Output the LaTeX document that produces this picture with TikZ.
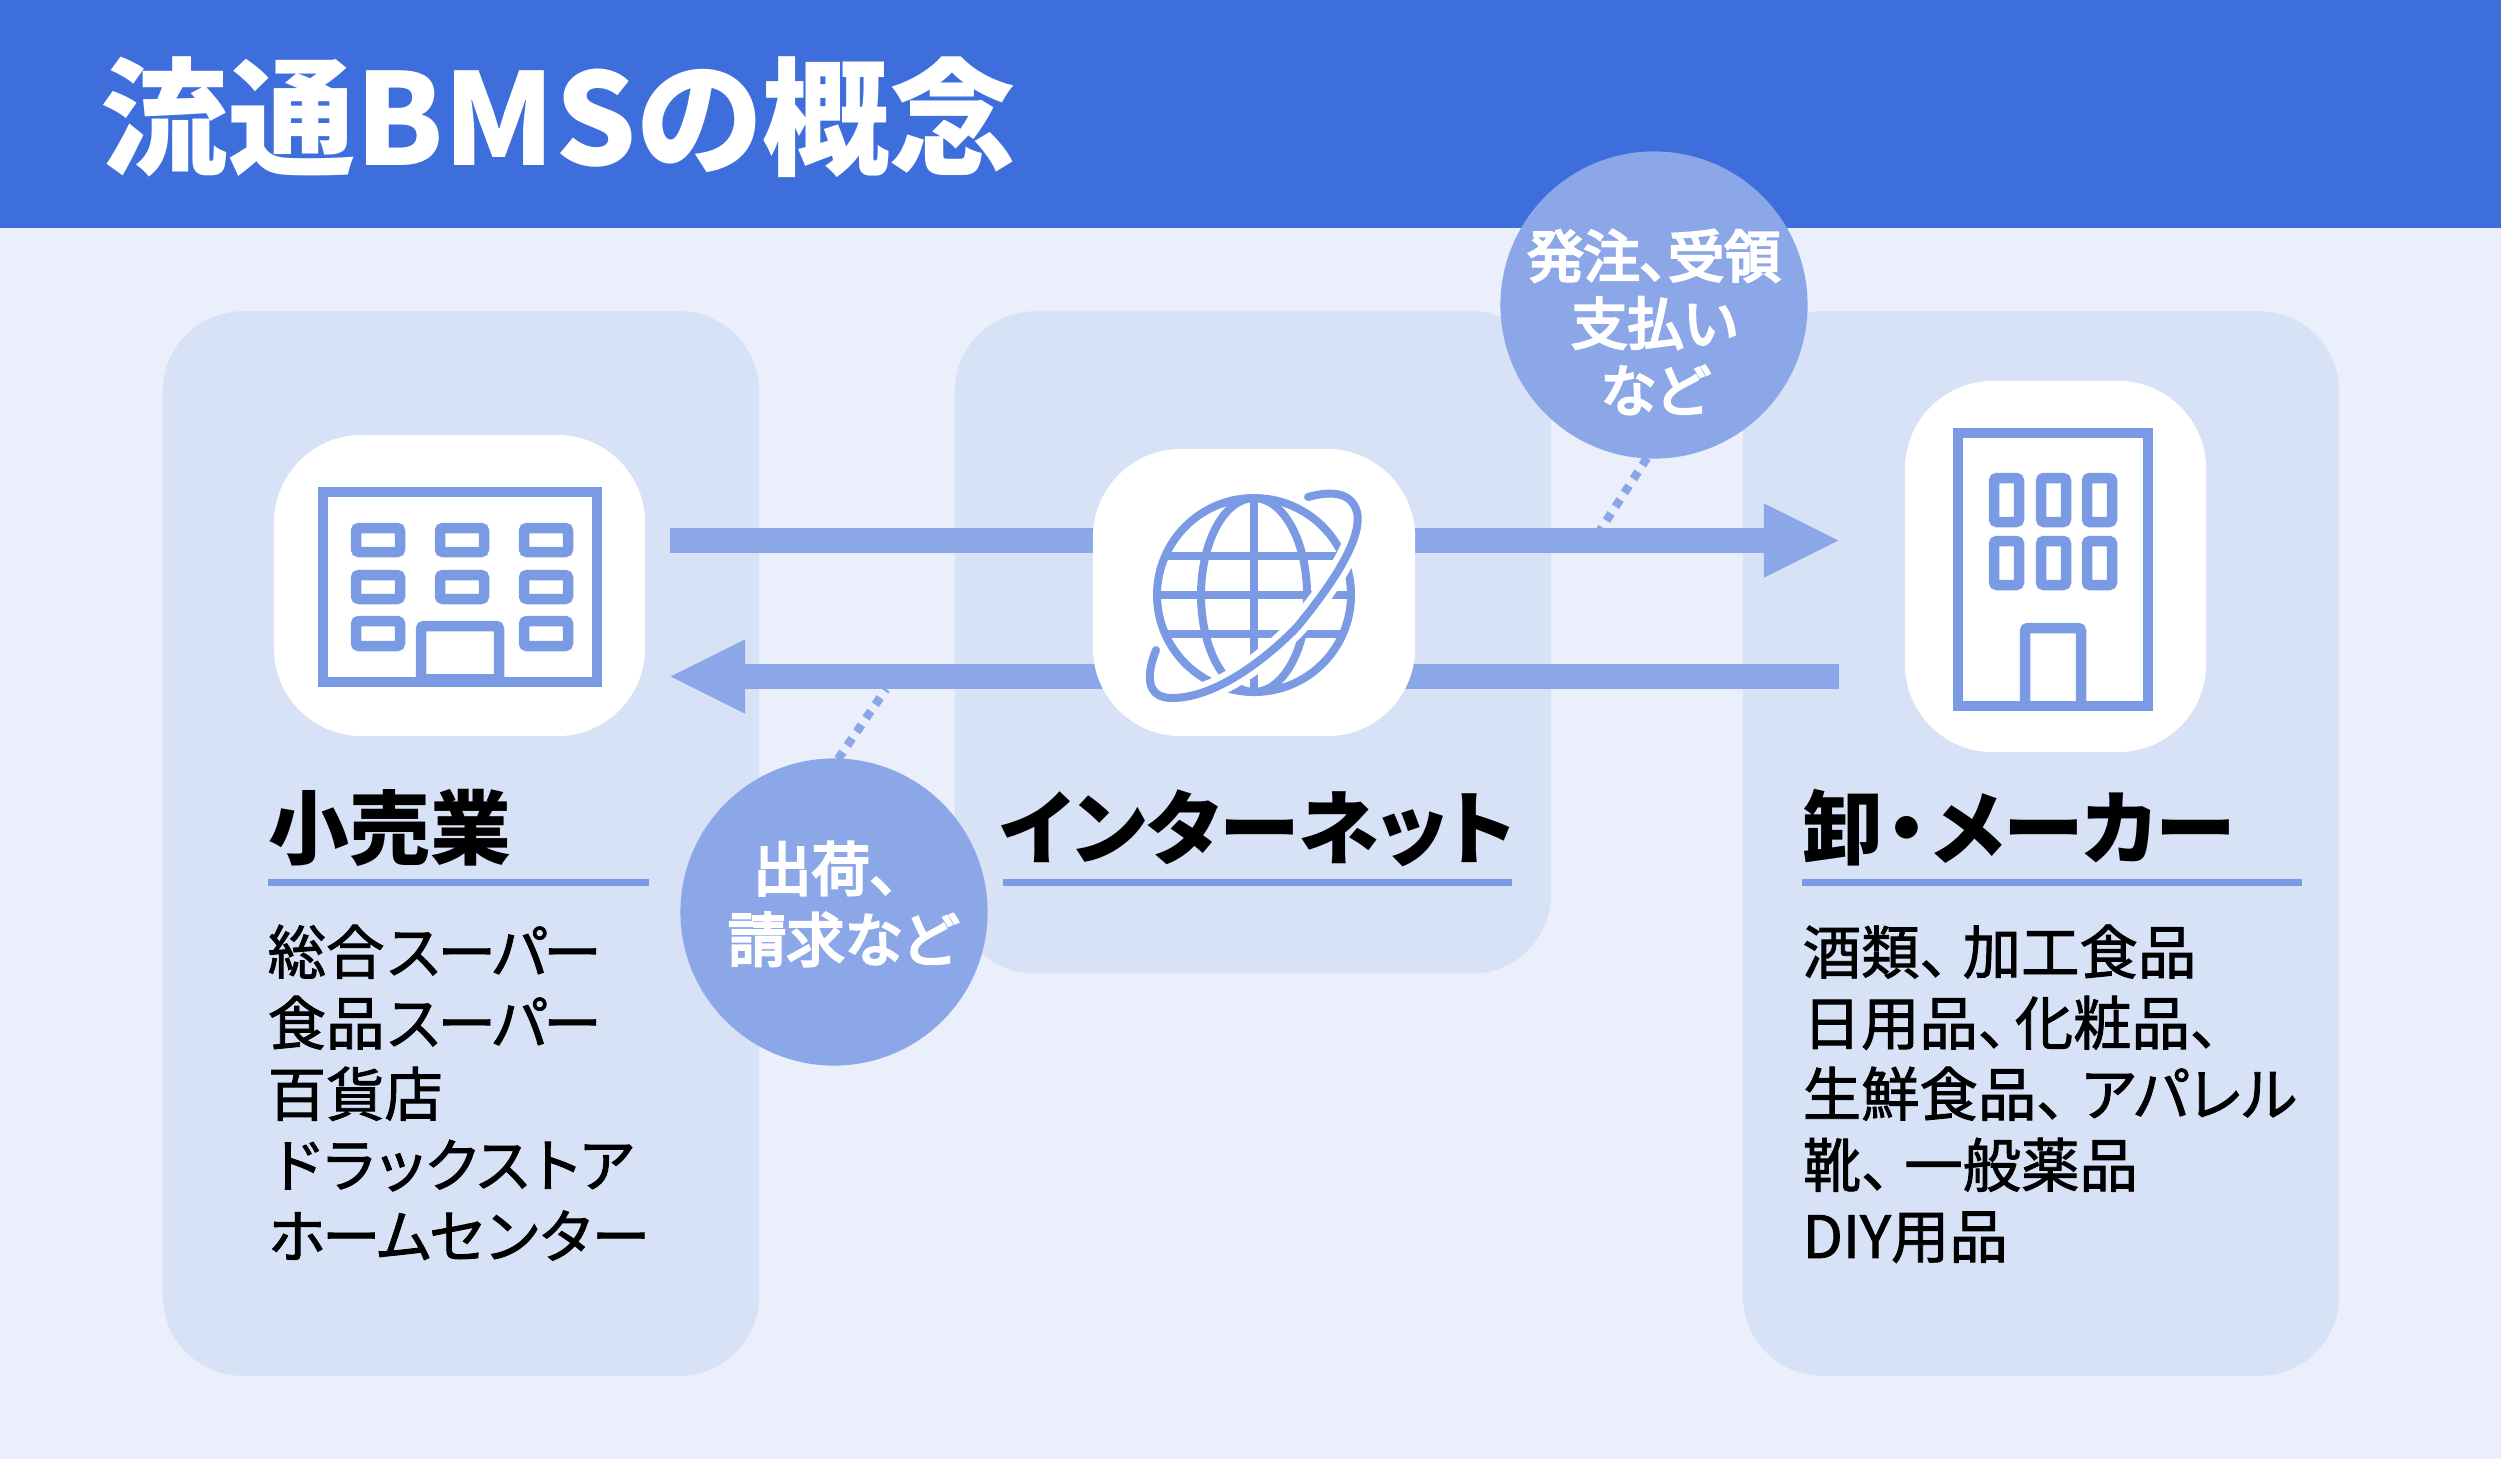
\documentclass[tikz,border=0pt]{standalone}
\usepackage{fontspec}
\setmainfont{Noto Sans CJK JP}[FakeBold=1.5]
\newfontfamily\headfont{Noto Sans CJK JP}[RawFeature={+palt}]
\newfontfamily\bubblefont{Noto Sans CJK JP}[RawFeature={+palt},FakeBold=4.5]
\usepackage{tikz}
\usetikzlibrary{arrows.meta,positioning}
\definecolor{bgpale}{HTML}{EAEFFB}
\definecolor{panelblue}{HTML}{D7E2F7}
\definecolor{headblue}{HTML}{3E6EDB}
\definecolor{arrowblue}{HTML}{8BA7E8}
\definecolor{iconblue}{HTML}{7A9AE4}
\tikzset{
    %Define style for boxes
    panelbox/.style={
           rectangle,
           rounded corners=0.8cm,
           fill=panelblue,
           inner sep=0pt,
           minimum width=5.96cm},
    cardbox/.style={
           rectangle,
           rounded corners=0.88cm,
           fill=white,
           inner sep=0pt},
    bubble/.style={
           circle,
           fill=arrowblue,
           inner sep=0pt,
           minimum size=3.07cm},
    % Define text styles
    titletext/.style={font=\headfont\bfseries\fontsize{36.2}{36.2}\selectfont, text=white, inner sep=0pt},
    headtext/.style={font=\headfont\bfseries\fontsize{23}{23}\selectfont, text=black, inner sep=0pt},
    listtext/.style={font=\fontsize{16.6}{20.2}\selectfont, text=black, align=left, inner sep=0pt},
    bubbletext/.style={font=\bubblefont\fontsize{16}{19.1}\selectfont, text=white, align=center, inner sep=0pt},
    % Define line styles
    pil/.style={
           draw=arrowblue,
           line width=0.25cm,
           -{Triangle[length=0.765cm,width=0.68cm]}},
    dotline/.style={draw=arrowblue, line width=0.085cm, dash pattern=on 0.085cm off 0.08cm},
    headrule/.style={draw=iconblue, line width=0.07cm},
    icon/.style={draw=iconblue, line width=0.105cm},
    globeline/.style={draw=iconblue, line width=0.08cm}
}
\newcommand{\tightkana}[2]{{\addfontfeature{LetterSpace=#1}#2}}
\newcommand{\tenkern}{、\kern-4.3pt}
\begin{document}
\begin{tikzpicture}[x=0.01cm,y=-0.01cm]
\useasboundingbox (0,0) rectangle (2501,1459);
 %background
\node[fill=bgpale, inner sep=0pt, minimum width=25.01cm, minimum height=14.59cm] (page) at (1250.5,729.5) {};
\node[fill=headblue, inner sep=0pt, minimum width=25.01cm, minimum height=2.28cm] (header) at (1250.5,114) {};
\node[titletext, anchor=west] (title) at (100,117) {流通BMSの概念};

 %panels
\node[panelbox, minimum height=10.64cm] (retailpanel) at (461,843.5) {};
\node[panelbox, minimum height=6.62cm] (netpanel) at (1253,642.5) {};
\node[panelbox, minimum height=10.64cm] (makerpanel) at (2041,843.5) {};

 %arrows
\coordinate (orderstart) at (670,540.5);
\coordinate (orderend) at (1840.5,540.5);
\coordinate (shipstart) at (1839,676.5);
\coordinate (shipend) at (668.5,676.5);
\draw[pil] (orderstart) -- (orderend);
\draw[pil] (shipstart) -- (shipend);

 %cards
\node[cardbox, minimum width=3.71cm, minimum height=3.01cm] (retailcard) at (459.5,585.5) {};
\node[cardbox, minimum width=3.22cm, minimum height=2.87cm] (netcard) at (1254,592.5) {};
\node[cardbox, minimum width=3.01cm, minimum height=3.71cm] (makercard) at (2055.5,566.5) {};

 %left building
\draw[icon] (323,492) rectangle (597,682);
\foreach \x in {356,440,524}
  \foreach \y in {528,575}
    \draw[icon, rounded corners=0.03cm] (\x,\y) rectangle ++(44,24);
\draw[icon, rounded corners=0.03cm] (356,621) rectangle ++(44,25);
\draw[icon, rounded corners=0.03cm] (524,621) rectangle ++(44,25);
\draw[icon, rounded corners=0.03cm] (421,680) -- (421,626) -- (499,626) -- (499,680);
\draw[icon] (421,679) -- (499,679);

 %right building
\draw[icon] (1958,433) rectangle (2148,706);
\foreach \x in {1994,2041,2087}
  \foreach \y in {478,541}
    \draw[icon, rounded corners=0.03cm] (\x,\y) rectangle ++(25,44);
\draw[icon, rounded corners=0.03cm] (2025,704) -- (2025,628) -- (2081,628) -- (2081,704);

 %globe
\draw[globeline] (1254,595) circle (97);
\draw[globeline] (1254,595) ellipse [x radius=53, y radius=97];
\draw[globeline] (1254,498) -- (1254,692);
\draw[globeline] (1157,595) -- (1351,595);
\draw[globeline] (1165,556) -- (1343,556);
\draw[globeline] (1165,634) -- (1343,634);
\draw[draw=white, line width=0.2cm] (1357,512) .. controls (1362,535) and (1340,575) .. (1297,627) .. controls (1265,660) and (1215,698) .. (1172,698);
\draw[globeline, line cap=round] (1308,497) .. controls (1330,491) and (1351,491) .. (1357,512) .. controls (1362,535) and (1340,575) .. (1297,627) .. controls (1265,660) and (1215,698) .. (1172,698) .. controls (1143,698) and (1148,670) .. (1156,650);

 %bubbles
\coordinate (orderfoot) at (1597,535);
\coordinate (shipfoot) at (886,689);
\draw[dotline] (1647,458) -- (orderfoot);
\draw[dotline] (838,759) -- (shipfoot);
\node[bubble] (orderbubble) at (1654,305) {};
\node[bubble] (shipbubble) at (834,912) {};
\node[bubbletext] (ordertext) at (1654,322) {発注、受領\\支払い\\など};
\node[bubbletext, font=\bubblefont\fontsize{16.6}{19.1}\selectfont] (shiptext) at (842,904) {出荷、\kern9pt\\[1pt]請求など};

 %headings
\node[headtext, anchor=west] (retailhead) at (268,828) {小売業};
\node[headtext] (nethead) at (1257.5,828) {インターネット};
\node[headtext, anchor=west] (makerhead) at (1802,828) {卸\kern1pt・\kern1.3ptメーカー};
\draw[headrule] (268,882) -- (649,882);
\draw[headrule] (1003,882) -- (1512,882);
\draw[headrule] (1802,882) -- (2302,882);

 %lists
\node[listtext, anchor=north west] (retaillist) at (267,924) {総合\tightkana{-9}{スーパー}\\食品\tightkana{-9}{スーパー}\\百貨店\\\tightkana{-11}{ドラックストア}\\\tightkana{-7}{ホームセンター}};
\node[listtext, anchor=north west] (makerlist) at (1802,924) {酒類\tenkern 加工食品\\日用品\tenkern\kern-1.8pt 化粧品、\\生鮮食品\tenkern\tightkana{-8}{アパレル}\\靴\tenkern 一般薬品\\DIY用品};

\end{tikzpicture}
\end{document}
